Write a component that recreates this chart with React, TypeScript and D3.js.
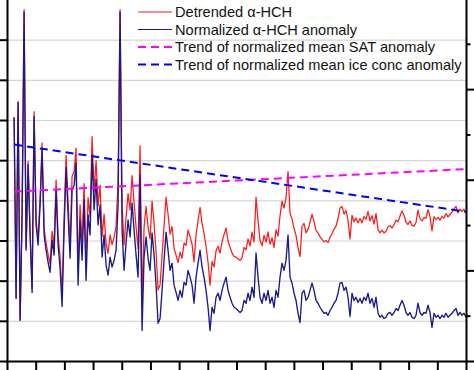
import React from 'react';
import * as d3 from 'd3';

const W = 474;
const H = 370;

// time axis: evenly spaced samples starting at startYear
const startYear = 1993.23;
const stepYears = 0.0697;

const xTicks = [1993, 1994, 1995, 1996, 1997, 1998, 1999, 2000, 2001, 2002, 2003, 2004, 2005, 2006, 2007, 2008, 2009];
const yTicksLeft = [-4, -3, -2, -1, 0, 1, 2, 3, 4];
const gridValues = [-3, -2, -1, 0, 1, 2, 3, 4];
const yTicksRightMajor = [0, 1, 2, 3];
const yTicksRightMinor = [0.5, 1.5, 2.5, 3.5];

const normalizedAnomaly = [
  2.08, -2.43, 2.45, -2.98, -0.35, 4.70, -1.23, 0.90, -0.85, -2.28,
  2.10, -0.60, -1.10, -0.10, 1.28, -0.85, -1.23, -1.53, -1.78, -0.98,
  -1.35, 0.28, -1.10, -1.68, -2.63, -0.73, 0.83, -0.35, -1.43, 0.28,
  0.38, 0.95, -2.10, -0.48, -1.48, 0.03, -1.98, -0.35, -0.85, 1.15,
  -0.23, 0.53, -0.60, -0.10, -1.40, -0.85, -1.60, -1.85, -1.40, -1.65,
  -1.48, -1.23, -0.10, 4.70, -0.73, -1.73, -1.05, -0.48, -0.90, -0.05,
  -0.73, -1.35, -1.90, 0.65, -3.23, -1.40, -0.90, -1.43, -1.73, -0.80,
  -1.35, -2.10, -3.05, -2.93, -2.23, -1.48, -0.78, -1.23, -1.73, -1.55,
  -2.10, -2.28, -2.48, -2.23, -2.40, -2.03, -2.10, -1.73, -1.90, -2.10,
  -2.55, -1.90, -1.55, -1.23, -1.65, -1.90, -2.23, -2.65, -3.23, -2.65,
  -2.80, -2.40, -2.30, -2.48, -2.23, -2.05, -1.90, -2.23, -2.40, -2.55,
  -2.65, -2.68, -2.73, -2.78, -2.73, -2.48, -2.55, -2.30, -2.48, -2.15,
  -2.40, -1.30, -1.90, -2.40, -2.55, -2.30, -2.48, -2.23, -2.55, -2.40,
  -2.65, -2.23, -2.40, -1.90, -1.55, -1.73, -1.48, -0.85, -1.90, -2.05,
  -2.30, -2.48, -2.80, -3.03, -2.30, -2.23, -2.48, -2.40, -2.23, -2.05,
  -2.23, -2.48, -2.55, -2.65, -2.73, -2.80, -2.78, -2.85, -2.73, -2.65,
  -2.55, -2.48, -2.30, -2.05, -2.03, -2.23, -2.15, -2.40, -2.88, -2.30,
  -2.48, -2.40, -2.53, -2.43, -2.55, -2.40, -2.48, -2.30, -2.55, -2.43,
  -2.65, -2.40, -2.80, -2.90, -2.85, -2.93, -2.90, -2.80, -2.78, -2.85,
  -2.78, -2.68, -2.73, -2.60, -2.48, -2.60, -2.78, -2.85, -2.78, -2.90,
  -2.93, -2.85, -2.55, -2.78, -2.85, -2.78, -2.80, -2.60, -2.78, -3.15,
  -2.80, -2.90, -2.85, -2.93, -2.85, -2.90, -2.80, -2.90, -2.85, -2.80,
  -2.73, -2.68, -2.85, -2.78, -2.85, -2.80, -2.90,
];

const detrended = [
  2.08, -2.42, 2.47, -2.95, -0.30, 4.76, -1.16, 0.98, -0.76, -2.18,
  2.22, -0.47, -0.96, 0.05, 1.44, -0.68, -1.05, -1.33, -1.57, -0.76,
  -1.12, 0.52, -0.85, -1.42, -2.35, -0.44, 1.13, -0.04, -1.11, 0.61,
  0.73, 1.31, -1.73, -0.10, -1.09, 0.43, -1.57, 0.08, -0.41, 1.60,
  0.23, 1.00, -0.12, 0.39, -0.89, -0.33, -1.07, -1.31, -0.85, -1.09,
  -0.90, -0.64, 0.50, 4.76, -0.11, -1.10, -0.41, 0.18, -0.23, 0.63,
  -0.04, -0.65, -1.19, 1.37, -2.49, -0.65, -0.14, -0.66, -0.95, -0.01,
  -0.55, -1.28, -2.22, -2.09, -1.38, -0.62, 0.09, -0.34, -0.83, -0.64,
  -1.18, -1.35, -1.54, -1.28, -1.43, -1.05, -1.11, -0.73, -0.89, -1.08,
  -1.52, -0.85, -0.49, -0.16, -0.57, -0.81, -1.13, -1.53, -2.10, -1.51,
  -1.65, -1.24, -1.13, -1.30, -1.03, -0.84, -0.68, -1.00, -1.16, -1.30,
  -1.39, -1.40, -1.44, -1.48, -1.42, -1.16, -1.22, -0.95, -1.12, -0.78,
  -1.02, 0.09, -0.50, -0.99, -1.12, -0.86, -1.03, -0.77, -1.08, -0.92,
  -1.16, -0.72, -0.88, -0.37, -0.01, -0.18, 0.08, 0.73, -0.31, -0.45,
  -0.69, -0.86, -1.17, -1.39, -0.64, -0.56, -0.80, -0.71, -0.53, -0.34,
  -0.51, -0.74, -0.80, -0.89, -0.96, -1.02, -0.99, -1.04, -0.91, -0.82,
  -0.71, -0.63, -0.44, -0.18, -0.14, -0.33, -0.24, -0.48, -0.95, -0.36,
  -0.52, -0.43, -0.55, -0.44, -0.55, -0.39, -0.46, -0.26, -0.50, -0.37,
  -0.58, -0.32, -0.71, -0.80, -0.73, -0.80, -0.76, -0.65, -0.62, -0.68,
  -0.60, -0.48, -0.52, -0.38, -0.25, -0.36, -0.53, -0.59, -0.50, -0.61,
  -0.63, -0.54, -0.23, -0.45, -0.50, -0.42, -0.43, -0.22, -0.39, -0.75,
  -0.39, -0.47, -0.41, -0.48, -0.39, -0.43, -0.32, -0.40, -0.34, -0.28,
  -0.20, -0.14, -0.30, -0.21, -0.27, -0.21, -0.30,
];

const trendYears = [1993.23, 2008.98];
const satTrend = [0.23, 0.79];
const iceTrend = [1.40, -0.27];

const legendLabels = [
  'Detrended \u03B1-HCH',
  'Normalized \u03B1-HCH anomaly',
  'Trend of normalized mean SAT anomaly',
  'Trend of normalized mean ice conc anomaly',
];
const legendColors = ['#ff1a1a', '#1a1a8a', '#ff00ff', '#0000ff'];
const legendDashed = [false, false, true, true];

export default function App() {
  React.useEffect(() => {
    document.body.style.margin = '0';
  }, []);

  const left = 7.5;
  const right = 466.5;
  const bottom = 361.5;

  const x = d3.scaleLinear().domain([1993, 2009]).range([left, right]);
  const y = d3.scaleLinear().domain([-4, 5]).range([bottom, 0]);
  const yR = d3.scaleLinear().domain([0, 4]).range([bottom, -1]);

  const times = normalizedAnomaly.map((_, i) => startYear + i * stepYears);
  const line = d3
    .line<number>()
    .x((_, i) => x(times[i]))
    .y((d) => y(d));

  const trendLine = d3
    .line<number>()
    .x((_, i) => x(trendYears[i]))
    .y((d) => y(d));

  const font = "'Liberation Sans', Arial, Helvetica, sans-serif";

  return (
    <svg
      width={W}
      height={H}
      viewBox={`0 0 ${W} ${H}`}
      style={{ position: 'absolute', left: 0, top: 0, display: 'block', background: '#fff' }}
    >
      <rect x={0} y={0} width={W} height={H} fill="#fff" />
      {/* gridlines */}
      {gridValues.map((v) => (
        <line key={'g' + v} x1={left} x2={right} y1={y(v)} y2={y(v)} stroke="#d4d4d4" strokeWidth={1.2} />
      ))}

      {/* data */}
      <path d={line(detrended) || ''} fill="none" stroke="#ff1a1a" strokeWidth={1.25} strokeLinejoin="round" />
      <path d={line(normalizedAnomaly) || ''} fill="none" stroke="#1a1a8a" strokeWidth={1.35} strokeLinejoin="round" />

      {/* trends */}
      <path d={trendLine(satTrend) || ''} fill="none" stroke="#ff00ff" strokeWidth={2} strokeDasharray="8,5" />
      <path d={trendLine(iceTrend) || ''} fill="none" stroke="#0000ff" strokeWidth={2} strokeDasharray="8,5" />

      {/* axes */}
      <line x1={left} x2={left} y1={0} y2={bottom + 1} stroke="#000" strokeWidth={2} />
      <line x1={right} x2={right} y1={0} y2={bottom + 1} stroke="#000" strokeWidth={2} />
      <line x1={left - 1} x2={right + 1} y1={bottom} y2={bottom} stroke="#000" strokeWidth={2} />
      {yTicksLeft.map((v) => (
        <line key={'yl' + v} x1={0} x2={left} y1={y(v)} y2={y(v)} stroke="#000" strokeWidth={2} />
      ))}
      {xTicks.map((t) => (
        <line key={'xt' + t} x1={x(t)} x2={x(t)} y1={bottom} y2={H} stroke="#000" strokeWidth={2} />
      ))}
      {yTicksRightMajor.map((v) => (
        <line key={'yrM' + v} x1={right} x2={right + 8} y1={yR(v)} y2={yR(v)} stroke="#000" strokeWidth={2} />
      ))}
      {yTicksRightMinor.map((v) => (
        <line key={'yrm' + v} x1={right} x2={right + 4} y1={yR(v)} y2={yR(v)} stroke="#000" strokeWidth={2} />
      ))}

      {/* legend */}
      {legendLabels.map((label, i) => {
        const cy = 12 + i * 17.5;
        return (
          <g key={'lg' + i}>
            <line
              x1={138}
              x2={172}
              y1={cy}
              y2={cy}
              stroke={legendColors[i]}
              strokeWidth={legendDashed[i] ? 2 : 1.2}
              strokeDasharray={legendDashed[i] ? '8,5' : undefined}
            />
            <text x={175} y={cy + 5} fontFamily={font} fontSize={14.6} fill="#111">
              {label}
            </text>
          </g>
        );
      })}
    </svg>
  );
}
